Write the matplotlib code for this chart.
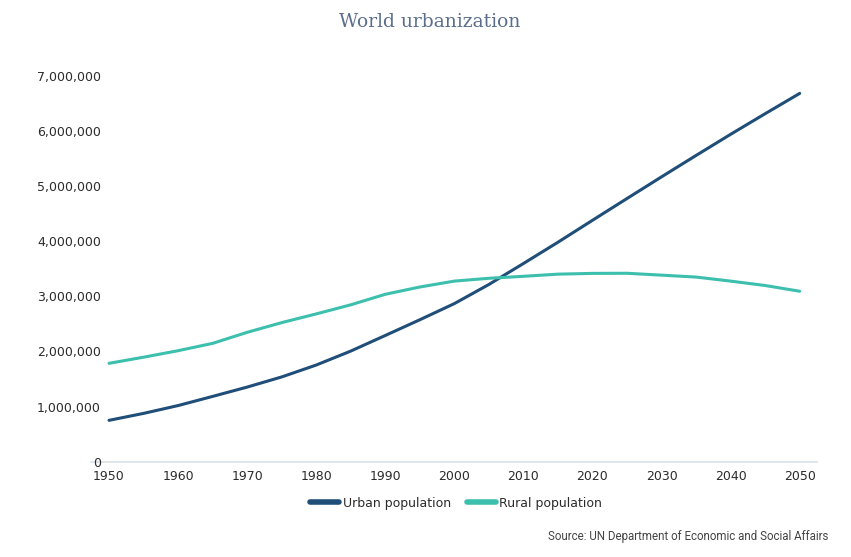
import matplotlib
matplotlib.use("Agg")
import matplotlib.pyplot as plt
from matplotlib.ticker import FuncFormatter

# UN World Urbanization Prospects (thousands)
years = [1950, 1955, 1960, 1965, 1970, 1975, 1980, 1985, 1990, 1995, 2000,
         2005, 2010, 2015, 2020, 2025, 2030, 2035, 2040, 2045, 2050]
urban = [751000, 877000, 1019000, 1185000, 1354000, 1538000, 1754000, 2007000,
         2290000, 2575000, 2868000, 3215000, 3595000, 3981000, 4379000, 4774000,
         5167000, 5555000, 5938000, 6312000, 6680000]
rural = [1785000, 1896000, 2014000, 2147000, 2347000, 2523000, 2681000, 2846000,
         3037000, 3169000, 3276000, 3327000, 3363000, 3402000, 3416000, 3418000,
         3384000, 3349000, 3276000, 3196000, 3092000]
x_ticks = list(range(1950, 2051, 10))
y_ticks = list(range(0, 7000001, 1000000))

urban_color = "#1f4e79"
rural_color = "#3dbfad"
text_color = "#2b2b2b"

fig = plt.figure(figsize=(8.51, 5.57), dpi=100)
ax = fig.add_axes([0.107, 0.171, 0.853, 0.693])

ax.plot(years, urban, color=urban_color, lw=2.2, label="Urban population",
        solid_capstyle="round")
ax.plot(years, rural, color=rural_color, lw=2.2, label="Rural population",
        solid_capstyle="round")

ax.set_xlim(1947.4, 2052.5)
ax.set_ylim(0, 7000000)
ax.set_xticks(x_ticks)
ax.set_yticks(y_ticks)
ax.yaxis.set_major_formatter(FuncFormatter(lambda v, p: f"{int(v):,}"))

for s in ax.spines.values():
    s.set_visible(False)
ax.axhline(0, color="#d8e0e8", lw=1.2, zorder=0, clip_on=False)
ax.tick_params(axis="both", length=0, labelsize=9, labelcolor=text_color)
ax.tick_params(axis="y", pad=-7)
ax.tick_params(axis="x", pad=6)

fig.text(0.505, 0.96, "World urbanization", ha="center", va="center",
         fontsize=13.5, family="DejaVu Serif", color="#5a6e8c")

leg = ax.legend(loc="center", bbox_to_anchor=(0.503, -0.107), ncol=2, frameon=False,
                fontsize=9, handlelength=2.3, handletextpad=0.3, columnspacing=1.3,
                labelcolor=text_color)
for h in leg.get_lines():
    h.set_linewidth(4)

fig.text(0.974, 0.036, "Source: UN Department of Economic and Social Affairs",
         ha="right", va="center", fontsize=8.3, family="Roboto", color="#444444")

fig.savefig("out.png", dpi=100)
